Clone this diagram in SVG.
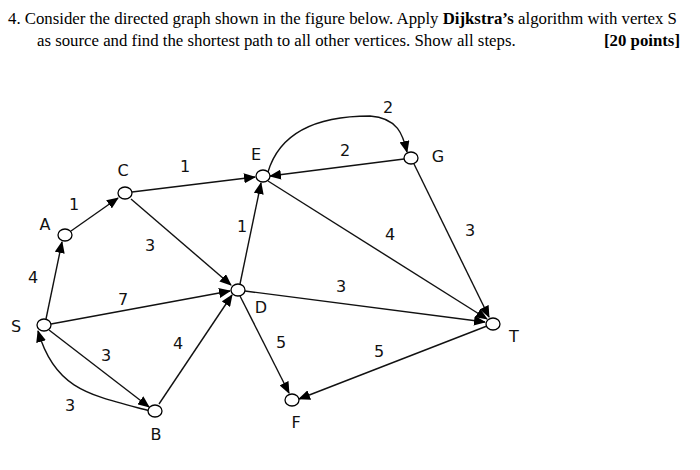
<svg xmlns="http://www.w3.org/2000/svg" width="700" height="470" viewBox="0 0 700 470">
<style>
.h{font-family:"Liberation Serif",serif;font-size:16.8px;fill:#000}
.n{fill:#fff;stroke:#000;stroke-width:1.3}
.l{font-family:"DejaVu Sans","Liberation Sans",sans-serif;font-size:16px;fill:#111;text-anchor:middle}
.e{fill:none;stroke:#111;stroke-width:1.4;marker-end:url(#a)}
</style>
<defs><marker id="a" markerWidth="12" markerHeight="10" refX="11" refY="5" orient="auto" markerUnits="userSpaceOnUse"><path d="M0,0L12,5L0,10z" fill="#000"/></marker></defs>
<rect width="700" height="470" fill="#fff"/>
<text class="h" x="8" y="24">4.  Consider the directed graph shown in the figure below. Apply <tspan font-weight="bold">Dijkstra’s</tspan> algorithm with vertex S</text>
<text class="h" x="37" y="46">as source and find the shortest path to all other vertices. Show all steps.</text>
<text class="h" x="680" y="46" text-anchor="end" font-weight="bold">[20 points]</text>
<g id="edges">
<path class="e" d="M46,319L62,242"/>
<path class="e" d="M71,231L118,198"/>
<path class="e" d="M132,192L255,177"/>
<path class="e" d="M131,199L231,285"/>
<path class="e" d="M51,324L230,291"/>
<path class="e" d="M49,330L149,407"/>
<path class="e" d="M150,411C90,395 55,390 38,331"/>
<path class="e" d="M159,404L232,295"/>
<path class="e" d="M240,284L261,183"/>
<path class="e" d="M268,172C282,125 330,116 370,116C398,118 403,135 407,152"/>
<path class="e" d="M404,159L270,176"/>
<path class="e" d="M268,181L487,319"/>
<path class="e" d="M245,291L485,322"/>
<path class="e" d="M414,164L489,317"/>
<path class="e" d="M240,296L289,393"/>
<path class="e" d="M487,326L299,399"/>
</g>
<g id="S"><ellipse class="n" cx="44" cy="325" rx="7" ry="6"/><text class="l" x="16" y="332">S</text></g>
<g id="A"><ellipse class="n" cx="65" cy="235" rx="7" ry="6"/><text class="l" x="45" y="230">A</text></g>
<g id="C"><ellipse class="n" cx="125" cy="193" rx="7" ry="6"/><text class="l" x="123" y="176">C</text></g>
<g id="E"><ellipse class="n" cx="263" cy="176" rx="7" ry="6"/><text class="l" x="256" y="160">E</text></g>
<g id="G"><ellipse class="n" cx="411" cy="158" rx="7" ry="6"/><text class="l" x="438" y="162">G</text></g>
<g id="D"><ellipse class="n" cx="238" cy="290" rx="7" ry="6"/><text class="l" x="261" y="313">D</text></g>
<g id="B"><ellipse class="n" cx="155" cy="411" rx="7" ry="6"/><text class="l" x="156" y="440">B</text></g>
<g id="F"><ellipse class="n" cx="292" cy="400" rx="7" ry="6"/><text class="l" x="296" y="428">F</text></g>
<g id="T"><ellipse class="n" cx="493" cy="324" rx="7" ry="6"/><text class="l" x="514" y="342">T</text></g>
<g id="labels">
<text class="l" x="33" y="283">4</text>
<text class="l" x="74" y="210">1</text>
<text class="l" x="185" y="172">1</text>
<text class="l" x="150" y="251">3</text>
<text class="l" x="123" y="305">7</text>
<text class="l" x="106" y="361">3</text>
<text class="l" x="70" y="411">3</text>
<text class="l" x="178" y="349">4</text>
<text class="l" x="242" y="232">1</text>
<text class="l" x="388" y="113">2</text>
<text class="l" x="345" y="156">2</text>
<text class="l" x="390" y="240">4</text>
<text class="l" x="470" y="236">3</text>
<text class="l" x="341" y="292">3</text>
<text class="l" x="281" y="348">5</text>
<text class="l" x="379" y="357">5</text>
</g>
</svg>
